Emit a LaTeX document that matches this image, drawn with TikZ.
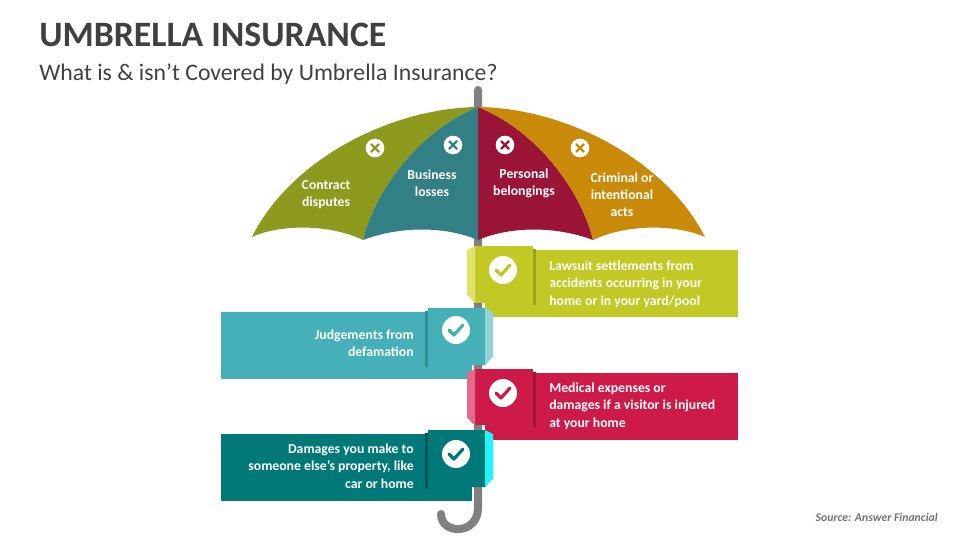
\documentclass[tikz,border=0pt]{standalone}
\usepackage{fontspec}
\setmainfont{Carlito}
\usetikzlibrary{calc}
\begin{document}
\begin{tikzpicture}[x=0.75pt,y=-0.75pt,
  body/.style={font=\fontsize{10.3}{12.8}\selectfont\bfseries, text=white, inner sep=0pt},
  chk/.style={circle, fill=white, minimum size=21pt, inner sep=0pt},
  xc/.style={circle, fill=white, minimum size=14pt, inner sep=0pt}]
\definecolor{olive}{HTML}{8E9A1E}
\definecolor{teal1}{HTML}{327F86}
\definecolor{crim}{HTML}{9A1438}
\definecolor{oran}{HTML}{C98A0A}
\definecolor{lime}{HTML}{C3C924}
\definecolor{limeL}{HTML}{E0E36A}
\definecolor{lteal}{HTML}{45B0B8}
\definecolor{ltealL}{HTML}{93D3D8}
\definecolor{red2}{HTML}{CE1A48}
\definecolor{red2L}{HTML}{E86A8A}
\definecolor{dteal}{HTML}{017979}
\definecolor{dtealL}{HTML}{1FF8F8}
\definecolor{shaft}{HTML}{808080}
\useasboundingbox (0,0) rectangle (960,540);
% title
\node[anchor=west, inner sep=0pt, font=\fontsize{26.8}{30}\selectfont\bfseries, text=black!75] (title) at (39,35) {UMBRELLA INSURANCE};
\node[anchor=west, inner sep=0pt, font=\fontsize{17.8}{20}\selectfont, text=black!75] (sub) at (39,74) {What is \& isn’t Covered by Umbrella Insurance?};
% shaft
\draw[shaft, line width=6pt, line cap=round] (478,90) -- (478,508) .. controls (478,535) and (441,535) .. (441,514);
% canopy
\coordinate (T) at (478,107);
\fill[olive] (252,237) .. controls (290,160) and (390,108) .. (T) .. controls (420,130) and (375,190) .. (363,240) .. controls (330,224) and (280,224) .. (252,237) -- cycle;
\fill[teal1] (T) .. controls (420,130) and (375,190) .. (363,240) .. controls (400,226) and (445,226) .. (478,240) -- cycle;
\fill[crim] (T) -- (478,240) .. controls (511,226) and (556,226) .. (593,240) .. controls (581,190) and (536,130) .. (T) -- cycle;
\fill[oran] (T) .. controls (566,108) and (666,160) .. (705,237) .. controls (676,224) and (626,224) .. (593,240) .. controls (581,190) and (536,130) .. (T) -- cycle;
% canopy labels
\node[body, align=center] (l1) at (326,195) {Contract\\disputes};
\node[body, align=center] (l2) at (432,183) {Business\\losses};
\node[body, align=center] (l3) at (524,183) {Personal\\belongings};
\node[body, align=center] (l4) at (622,195) {Criminal or\\intentional\\acts};
\foreach \n/\p/\c in {x1/{(375,148)}/olive, x2/{(453,145)}/teal1, x3/{(505,145)}/crim, x4/{(580,148)}/oran}{
  \node[xc] (\n) at \p {};
  \draw[\c, line width=1.8pt] ($(\n)+(-4,-4)$) -- ($(\n)+(4,4)$) ($(\n)+(-4,4)$) -- ($(\n)+(4,-4)$);
}
% banner 1 (right)
\fill[lime] (485,250) rectangle (738,317);
\fill[lime!85!black] (467,294) -- (475,303) -- (475,294) -- cycle;
\fill[lime!80!black] (533,249) rectangle (536,305);
\fill[lime] (475,246) rectangle (533,303);
\fill[limeL] (467,250) -- (475,246) -- (475,303) -- (467,294) -- cycle;
\node[chk] (c1) at (503,270) {};
\node[body, anchor=north west, align=left] (t1) at (549,261) {Lawsuit settlements from\\accidents occurring in your\\home or in your yard/pool};
% banner 2 (left)
\fill[lteal] (221,312) rectangle (472,379);
\fill[lteal!80!black] (493,356) -- (485,365) -- (485,356) -- cycle;
\fill[lteal!80!black] (425,311) rectangle (428,367);
\fill[lteal] (428,308) rectangle (485,365);
\fill[ltealL] (485,308) -- (493,312) -- (493,356) -- (485,365) -- cycle;
\node[chk] (c2) at (456,330) {};
\node[body, anchor=north east, align=right] (t2) at (414,330) {Judgements from\\defamation};
% banner 3 (right)
\fill[red2] (485,373) rectangle (738,440);
\fill[red2!80!black] (467,417) -- (475,425) -- (475,417) -- cycle;
\fill[red2!80!black] (533,372) rectangle (536,427);
\fill[red2] (475,369) rectangle (533,425);
\fill[red2L] (467,373) -- (475,369) -- (475,425) -- (467,417) -- cycle;
\node[chk] (c3) at (503,393) {};
\node[body, anchor=north west, align=left] (t3) at (549,383) {Medical expenses or\\damages if a visitor is injured\\at your home};
% banner 4 (left)
\fill[dteal] (221,434) rectangle (472,501);
\fill[dteal!70!black] (493,478) -- (485,487) -- (485,478) -- cycle;
\fill[dteal!70!black] (425,433) rectangle (428,489);
\fill[dteal] (428,430) rectangle (485,487);
\fill[dtealL] (485,430) -- (493,434) -- (493,478) -- (485,487) -- cycle;
\node[chk] (c4) at (456,454) {};
\node[body, anchor=north east, align=right] (t4) at (414,444) {Damages you make to\\someone else’s property, like\\car or home};
% checkmarks
\foreach \n/\c in {c1/lime, c2/lteal, c3/red2, c4/dteal}{
  \draw[\c, line width=2.4pt, line cap=round, line join=round] ($(\n)+(-7,0)$) -- ($(\n)+(-2,5)$) -- ($(\n)+(7,-5)$);
}
% source
\node[anchor=east, inner sep=0pt, font=\fontsize{8.8}{10}\selectfont\bfseries\itshape, text=black!55] (src) at (938,517) {Source: Answer Financial};
\end{tikzpicture}
\end{document}
